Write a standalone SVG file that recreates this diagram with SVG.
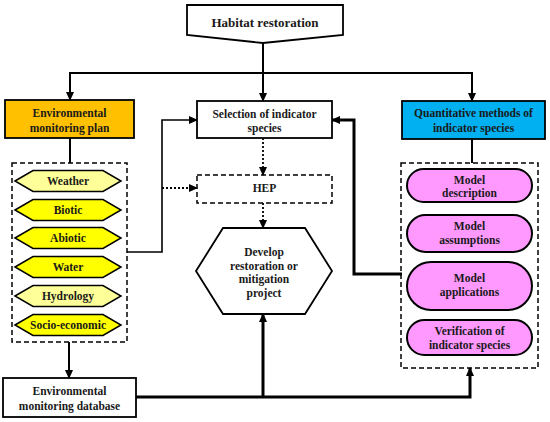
<svg xmlns="http://www.w3.org/2000/svg" width="550" height="422" viewBox="0 0 550 422">
<defs>
<marker id="ah" markerUnits="userSpaceOnUse" markerWidth="9" markerHeight="8" refX="8" refY="4" orient="auto">
<path d="M0,0 L9,4 L0,8 Z" fill="#000"/>
</marker>
</defs>
<style>
text{font-family:"Liberation Serif","Times New Roman",serif;font-weight:bold;font-size:11.5px;fill:#1a1a1a;text-anchor:middle;dominant-baseline:central}
.box{stroke:#000;stroke-width:1.8}
.dash{fill:none;stroke:#000;stroke-width:1.5;stroke-dasharray:5 3}
.hex{stroke:#000;stroke-width:1.5}
.pill{fill:#FF99FF;stroke:#000;stroke-width:2}
.c{fill:none;stroke:#000;stroke-width:2}
.thin{fill:none;stroke:#000;stroke-width:1.6}
.thick{fill:none;stroke:#000;stroke-width:3}
.dot{fill:none;stroke:#000;stroke-width:1.8;stroke-dasharray:2 2}
</style>
<rect width="550" height="422" fill="#fff"/>
<g id="connectors">
<path class="c" d="M263,43 V101" marker-end="url(#ah)"/>
<path class="c" d="M70,100 V73 H472 V101" marker-end="url(#ah)"/>
<path class="c" d="M70,73 V100" marker-end="url(#ah)"/>
<path class="c" d="M70,138 V163"/>
<path class="c" d="M472,139 V163"/>
<path class="c" d="M69,342 V378" marker-end="url(#ah)"/>
<path class="thin" d="M127,252 H162 V120 H197" marker-end="url(#ah)"/>
<path class="dot" d="M162,188 H197" marker-end="url(#ah)"/>
<path class="dot" d="M263,138 V175" marker-end="url(#ah)"/>
<path class="dot" d="M263,203 V228" marker-end="url(#ah)"/>
<path class="thick" d="M136,397 H470 V368" marker-end="url(#ah)"/>
<path class="thick" d="M263,397 V314" marker-end="url(#ah)"/>
<path class="thick" d="M402,274 H354 V120 H332" marker-end="url(#ah)"/>
</g>
<g id="habitat">
<polygon class="box" fill="#fff" points="187,5 343,5 343,35 263,43 187,35"/>
<text x="265" y="22" style="font-size:13px">Habitat restoration</text>
</g>
<g id="env-plan">
<rect class="box" x="5" y="100" width="129" height="38" fill="#FFC000"/>
<text x="69.5" y="113">Environmental</text>
<text x="69.5" y="128">monitoring plan</text>
</g>
<g id="selection">
<rect class="box" x="197" y="101" width="135" height="37" fill="#fff"/>
<text x="264.5" y="114">Selection of indicator</text>
<text x="264.5" y="128">species</text>
</g>
<g id="quantitative">
<rect class="box" x="402" y="101" width="143" height="38" fill="#00B0F0"/>
<text x="473.5" y="113">Quantitative methods of</text>
<text x="473.5" y="128">indicator species</text>
</g>
<g id="hep">
<rect class="dash" x="197" y="175" width="135" height="28" fill="#fff"/>
<text x="264.5" y="188">HEP</text>
</g>
<g id="develop">
<polygon class="box" fill="#fff" points="196,271 223,228 305,228 332,271 305,314 223,314"/>
<text x="264" y="252">Develop</text>
<text x="264" y="266">restoration or</text>
<text x="264" y="279">mitigation</text>
<text x="264" y="293">project</text>
</g>
<g id="monitoring-group">
<rect class="dash" x="12" y="163" width="115" height="179"/>
</g>
<g id="weather">
<polygon class="hex" fill="#FFFF99" points="15,181 33,170.5 103,170.5 121,181 103,191.5 33,191.5"/>
<text x="68" y="181">Weather</text>
</g>
<g id="biotic">
<polygon class="hex" fill="#FFFF00" points="15,210 33,199.5 103,199.5 121,210 103,220.5 33,220.5"/>
<text x="68" y="210">Biotic</text>
</g>
<g id="abiotic">
<polygon class="hex" fill="#FFFF00" points="15,238 33,227.5 103,227.5 121,238 103,248.5 33,248.5"/>
<text x="68" y="238">Abiotic</text>
</g>
<g id="water">
<polygon class="hex" fill="#FFFF00" points="15,267 33,256.5 103,256.5 121,267 103,277.5 33,277.5"/>
<text x="68" y="267">Water</text>
</g>
<g id="hydrology">
<polygon class="hex" fill="#FFFF99" points="15,296 33,285.5 103,285.5 121,296 103,306.5 33,306.5"/>
<text x="68" y="296">Hydrology</text>
</g>
<g id="socio-economic">
<polygon class="hex" fill="#FFFF00" points="15,325 33,314.5 103,314.5 121,325 103,335.5 33,335.5"/>
<text x="68" y="325">Socio-economic</text>
</g>
<g id="methods-group">
<rect class="dash" x="401" y="163" width="137" height="205"/>
</g>
<g id="model-description">
<rect class="pill" x="407" y="169" width="125" height="33" rx="16.5"/>
<text x="469.5" y="180">Model</text>
<text x="469.5" y="193">description</text>
</g>
<g id="model-assumptions">
<rect class="pill" x="407" y="215" width="125" height="37" rx="18.5"/>
<text x="469.5" y="226">Model</text>
<text x="469.5" y="240">assumptions</text>
</g>
<g id="model-applications">
<rect class="pill" x="407" y="262" width="125" height="48" rx="24"/>
<text x="469.5" y="278">Model</text>
<text x="469.5" y="292">applications</text>
</g>
<g id="verification">
<rect class="pill" x="407" y="320" width="125" height="35" rx="17.5"/>
<text x="469.5" y="331">Verification of</text>
<text x="469.5" y="345">indicator species</text>
</g>
<g id="database">
<rect class="box" x="3" y="378" width="133" height="39" fill="#fff"/>
<text x="69.5" y="391">Environmental</text>
<text x="69.5" y="406">monitoring database</text>
</g>
</svg>
